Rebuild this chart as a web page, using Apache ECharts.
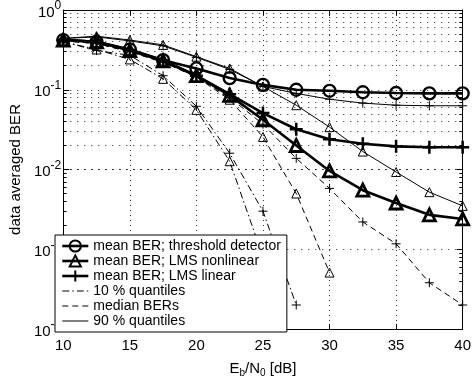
<!DOCTYPE html>
<html><head><meta charset="utf-8">
<script src="https://cdn.jsdelivr.net/npm/echarts@6/dist/echarts.min.js"></script>
<style>html,body{margin:0;padding:0;background:#fff}#c{width:474px;height:383px}</style>
</head><body><div id="c"></div>
<script>
// ---- data ----
const snr = [10, 12.5, 15, 17.5, 20, 22.5, 25, 27.5, 30, 32.5, 35, 37.5, 40];
const meanThreshold = [0.42, 0.40, 0.32, 0.235, 0.185, 0.14, 0.115, 0.10, 0.097, 0.093, 0.091, 0.090, 0.090];
const meanLmsNonlin = [0.42, 0.40, 0.31, 0.23, 0.15, 0.085, 0.042, 0.020, 0.0096, 0.0055, 0.0038, 0.0027, 0.0024];
const meanLmsLin    = [0.42, 0.40, 0.315, 0.235, 0.15, 0.088, 0.051, 0.032, 0.024, 0.021, 0.0195, 0.019, 0.019];
const q90LmsNonlin  = [0.44, 0.47, 0.42, 0.365, 0.26, 0.185, 0.11, 0.064, 0.034, 0.0168, 0.0093, 0.0052, 0.0035];
const q90LmsLin     = [0.44, 0.46, 0.41, 0.355, 0.255, 0.18, 0.11, 0.09, 0.076, 0.068, 0.064, 0.063, 0.063];
const medLmsNonlin  = [0.41, 0.38, 0.30, 0.22, 0.145, 0.075, 0.0256, 0.0050, 0.00051, null, null, null, null];
const medLmsLin     = [0.41, 0.38, 0.30, 0.225, 0.145, 0.08, 0.037, 0.0138, 0.0058, 0.0022, 0.00117, 0.00038, 0.0002];
const q10LmsNonlin  = [0.40, 0.32, 0.24, 0.137, 0.056, 0.0127, 0.0008, null, null, null, null, null, null];
const q10LmsLin     = [0.40, 0.31, 0.27, 0.15, 0.062, 0.016, 0.0030, 0.0002, null, null, null, null, null];
const xTicks = [10, 15, 20, 25, 30, 35, 40];
const legendNames = ['mean BER; threshold detector', 'mean BER; LMS nonlinear', 'mean BER; LMS linear', '10 % quantiles', 'median BERs', '90 % quantiles'];
const minorMultipliers = [2, 3, 4, 5, 6, 7, 8, 9];
const decades = [1e-4, 1e-3, 1e-2, 1e-1];

// ---- build ----
const FONT = 'Liberation Sans, Arial, Helvetica, sans-serif';
const pts = arr => snr.map((x, i) => [x, arr[i]]).filter(p => p[1] != null);
const PLUS = 'path://M0,5L10,5M5,0L5,10';
const DASHDOT = [7, 3, 1.5, 3];
const DASH = [6, 4];

function lineSeries(name, arr, symbol, size, lw, dash, mw) {
  const hidden = symbol === 'none';
  return {
    type: 'line', name: name, data: pts(arr), symbol: hidden ? 'circle' : symbol, symbolSize: size,
    showSymbol: !hidden, animation: false, z: 3,
    lineStyle: { color: '#000', width: lw, type: dash || 'solid' },
    itemStyle: hidden
      ? { color: 'rgba(0,0,0,0)', borderColor: 'rgba(0,0,0,0)', borderWidth: 0, opacity: 0 }
      : { color: 'rgba(0,0,0,0)', borderColor: '#000', borderWidth: mw },
    emphasis: { disabled: true }
  };
}

const minorVals = [];
decades.forEach(d => minorMultipliers.forEach(m => minorVals.push(d * m)));
const majorVals = decades.concat([1]);
const tickLines = [];
minorVals.forEach(v => {
  tickLines.push([{ coord: [10, v] }, { coord: [10.25, v] }]);
  tickLines.push([{ coord: [40, v] }, { coord: [39.75, v] }]);
});
majorVals.forEach(v => {
  tickLines.push([{ coord: [10, v] }, { coord: [10.45, v] }]);
  tickLines.push([{ coord: [40, v] }, { coord: [39.55, v] }]);
});

const series = [
  {
    type: 'line', name: 'grid', data: [[10, 1]], symbol: 'none', silent: true, z: 1,
    lineStyle: { opacity: 0 }, animation: false,
    markLine: {
      silent: true, symbol: ['none', 'none'], animation: false, label: { show: false },
      lineStyle: { color: '#222', width: 1, type: [1, 6] },
      data: minorVals.map(v => ({ yAxis: v }))
    }
  },
  {
    type: 'line', name: 'ticks', data: [[10, 1]], symbol: 'none', silent: true, z: 1,
    lineStyle: { opacity: 0 }, animation: false,
    markLine: {
      silent: true, symbol: ['none', 'none'], animation: false, label: { show: false },
      lineStyle: { color: '#000', width: 1, type: 'solid' },
      data: tickLines
    }
  },
  lineSeries('q90nl', q90LmsNonlin, 'triangle', 9, 1, 'solid', 1),
  lineSeries('q90lin', q90LmsLin, PLUS, 9, 1, 'solid', 1),
  lineSeries('mednl', medLmsNonlin, 'triangle', 9, 1, DASH, 1),
  lineSeries('medlin', medLmsLin, PLUS, 9, 1, DASH, 1),
  lineSeries('q10nl', q10LmsNonlin, 'triangle', 9, 1, DASHDOT, 1),
  lineSeries('q10lin', q10LmsLin, PLUS, 9, 1, DASHDOT, 1),
  lineSeries(legendNames[0], meanThreshold, 'circle', 12, 2.6, 'solid', 2.3),
  lineSeries(legendNames[1], meanLmsNonlin, 'triangle', 12, 2.6, 'solid', 2.8),
  lineSeries(legendNames[2], meanLmsLin, PLUS, 13, 2.6, 'solid', 2.5),
  lineSeries(legendNames[3], [], 'none', 0, 1, DASHDOT, 1),
  lineSeries(legendNames[4], [], 'none', 0, 1, DASH, 1),
  lineSeries(legendNames[5], [], 'none', 0, 1, 'solid', 1)
];

const option = {
  backgroundColor: '#fff',
  animation: false,
  grid: { left: 48, right: 6, top: 9, bottom: 45, containLabel: false },
  legend: {
    data: legendNames, orient: 'vertical', left: 55, top: 235,
    backgroundColor: '#fff', borderColor: '#000', borderWidth: 1,
    padding: [4, 6, 4, 6], itemGap: 1, itemWidth: 26, itemHeight: 14,
    lineStyle: { width: 'inherit' },
    textStyle: { fontFamily: FONT, fontSize: 14, color: '#000' },
    selectedMode: false, z: 10
  },
  xAxis: [{
    type: 'value', min: 10, max: 40, interval: 5,
    name: 'E{s|b}/N{s|0} [dB]', nameLocation: 'middle', nameGap: 31,
    nameTextStyle: { fontFamily: FONT, fontSize: 15, color: '#000',
      rich: { s: { fontFamily: FONT, fontSize: 10, verticalAlign: 'bottom', padding: [8, 0, 0, 0] } } },
    axisLine: { show: true, onZero: false, lineStyle: { color: '#000', width: 1 } },
    axisTick: { show: true, inside: true, length: 5, lineStyle: { color: '#000' } },
    axisLabel: { fontFamily: FONT, fontSize: 15, color: '#000', margin: 9 },
    splitLine: { show: true, lineStyle: { color: '#333', width: 1, type: [1, 4] } }
  }, {
    type: 'value', min: 10, max: 40, interval: 5, position: 'top',
    axisLine: { show: true, onZero: false, lineStyle: { color: '#000', width: 1 } },
    axisTick: { show: true, inside: true, length: 5, lineStyle: { color: '#000' } },
    axisLabel: { show: false }, splitLine: { show: false }
  }],
  yAxis: [{
    type: 'log', logBase: 10, min: 1e-4, max: 1,
    name: 'data averaged BER', nameLocation: 'middle', nameGap: 35,
    nameTextStyle: { fontFamily: FONT, fontSize: 15, color: '#000' },
    axisLine: { show: true, onZero: false, lineStyle: { color: '#000', width: 1 } },
    axisTick: { show: false },
    axisLabel: {
      fontFamily: FONT, color: '#000', margin: 2,
      formatter: v => '{b|10}{s|' + Math.round(Math.log10(v)) + '}',
      rich: {
        b: { fontFamily: FONT, fontSize: 15, color: '#000', lineHeight: 20, verticalAlign: 'bottom' },
        s: { fontFamily: FONT, fontSize: 12, color: '#000', lineHeight: 20, verticalAlign: 'top', padding: [0, 0, 6, 0] }
      }
    },
    splitLine: { show: true, lineStyle: { color: '#222', width: 1, type: [1, 6] } }
  }, {
    type: 'log', logBase: 10, min: 1e-4, max: 1, position: 'right',
    axisLine: { show: true, onZero: false, lineStyle: { color: '#000', width: 1 } },
    axisTick: { show: false }, axisLabel: { show: false }, splitLine: { show: false }
  }],
  series: series
};
const chart = echarts.init(document.getElementById('c'), null, { renderer: 'canvas' });
chart.setOption(option);
</script></body></html>
